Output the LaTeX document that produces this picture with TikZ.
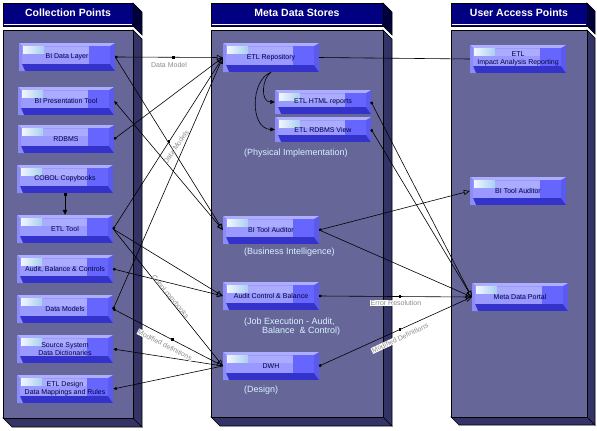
\documentclass[tikz,border=0pt]{standalone}
\usepackage{fontspec}
\setmainfont{Liberation Sans}
\usetikzlibrary{arrows.meta,calc}
\definecolor{panelface}{HTML}{666699}
\definecolor{panelside}{HTML}{333366}
\definecolor{hdrface}{HTML}{000080}
\definecolor{hdrside}{HTML}{00003A}
\definecolor{btndark}{HTML}{3333CC}
\definecolor{btnright}{HTML}{6666FF}
\definecolor{btnface}{HTML}{9999FF}
\definecolor{btntop}{HTML}{AEAEFF}
\definecolor{btnleft}{HTML}{8C8CF8}
\definecolor{btnrbev}{HTML}{5A5AEE}
\definecolor{btnband}{HTML}{ABABFF}
\definecolor{hilite}{HTML}{F2F6FF}
\definecolor{hilite2}{HTML}{A8D0F0}
\definecolor{txtnavy}{HTML}{000040}
\definecolor{lblgray}{HTML}{8C8C8C}
\definecolor{parencol}{HTML}{D6F4FF}

\newcommand{\mybtn}[5]{%
 \begin{scope}[shift={(#2,#3)}]
  \fill[btndark] (0,0) rectangle (96,#4);
  \fill[btnrbev] (96,0) -- (96,#4) -- (91,#4-7) -- (91,3) -- cycle;
  \fill[btntop] (0,0) -- (96,0) -- (91,3) -- (3,3) -- cycle;
  \fill[btnleft] (0,0) -- (3,3) -- (3,#4-7) -- (6,#4) -- (0,#4) -- cycle;
  \fill[btnface] (3,3) rectangle (91,#4-7);
  \fill[btnright] (70,3) rectangle (91,#4-7);
  \shade[left color=hilite, right color=hilite2] (4,3.5) rectangle (25,10.5);
  \fill[btnband] (25,3.5) rectangle (70,10.5);
 \end{scope}
 \node[btntext, minimum height=#4] (#1) at (#2+48,#3+#4/2) {#5};
}

\newcommand{\mypanel}[4]{%
 \filldraw[panelside, draw=black, line width=0.6pt] (#1,#3) -- (#2,#3) -- (#2+#4,#3+#4) -- (#1+#4,#3+#4) -- cycle;
 \filldraw[panelside, draw=black, line width=0.6pt] (#2,30) -- (#2+#4,30+#4) -- (#2+#4,#3+#4) -- (#2,#3) -- cycle;
 \filldraw[panelface, draw=black, line width=0.6pt] (#1,30) rectangle (#2,#3);
 \filldraw[hdrside, draw=black, line width=0.6pt] (#2,3) -- (#2+#4,3+#4) -- (#2+#4,26+#4) -- (#2,26) -- cycle;
 \filldraw[hdrface, draw=black, line width=0.6pt] (#1,3) rectangle (#2,26);
 \draw[white, line width=0.8pt] (#1+0.6,24) -- (#2-0.6,24);
}

\tikzset{
 btntext/.style={minimum width=96pt, inner sep=0pt, align=center, text=txtnavy,
   font=\fontsize{7}{8}\selectfont},
 hdr/.style={inner sep=0pt, text=white, font=\bfseries\fontsize{10.5}{12}\selectfont},
 paren/.style={inner sep=0pt, text=parencol, font=\fontsize{9}{10}\selectfont, anchor=west},
 lbl/.style={inner sep=0.5pt, text=lblgray, font=\fontsize{7}{8}\selectfont},
 lblw/.style={lbl, fill=white},
 conn/.style={draw=black, line width=0.6pt},
 oa/.style={arrows={-Triangle[open,length=6pt,width=5pt]}},
 sqoa/.style={arrows={Square[length=2.2pt,width=2.2pt]-Triangle[open,length=6pt,width=5pt]}},
 saoa/.style={arrows={Triangle[length=3.5pt,width=3pt]-Triangle[open,length=6pt,width=5pt]}},
 sa/.style={arrows={Triangle[length=3.5pt,width=3pt]-}},
 sqfa/.style={arrows={Square[length=2.2pt,width=2.2pt]-Triangle[length=5pt,width=4.5pt]}},
 fa/.style={arrows={-Triangle[length=4.5pt,width=4pt]}},
 mm/.style={fill=black, minimum size=2.6pt, inner sep=0pt, rectangle},
}

\begin{document}
\begin{tikzpicture}[x=1pt,y=-1pt]
\useasboundingbox (0,0) rectangle (597,431);
\fill[white] (0,0) rectangle (597,431);

% panels
\mypanel{3}{133}{418}{9}
\mypanel{211}{383}{417}{9}
\mypanel{451}{587}{417}{8}

\node[hdr] (hC) at (68,13) {Collection Points};
\node[hdr] (hM) at (297,13) {Meta Data Stores};
\node[hdr] (hU) at (519,13) {User Access Points};

% buttons
\mybtn{bidl}{19}{43}{28}{BI Data Layer}
\mybtn{bipt}{18}{87}{28}{BI Presentation Tool}
\mybtn{rdbms}{18}{125}{28}{RDBMS}
\mybtn{cobol}{17}{165}{28}{COBOL Copybooks}
\mybtn{etltool}{17}{215}{28}{ETL Tool}
\mybtn{abc}{17}{255}{28}{Audit, Balance \& Controls}
\mybtn{dmodels}{17}{295}{28}{Data Models}
\mybtn{srcsys}{17}{335}{28}{Source System\\Data Dictionaries}
\mybtn{etldes}{17}{375}{28}{ETL Design\\Data Mappings and Rules}
\mybtn{repo}{223}{43}{29}{ETL Repository}
\mybtn{htmlrep}{275}{90}{24}{ETL HTML reports}
\mybtn{rdbmsv}{275}{117}{25}{ETL RDBMS View}
\mybtn{bitam}{223}{216}{28}{BI Tool Auditor}
\mybtn{acb}{223}{282}{28}{Audit Control \& Balance}
\mybtn{dwh}{223}{352}{28}{DWH}
\mybtn{impact}{470}{45}{28}{ETL\\Impact Analysis Reporting}
\mybtn{bitau}{470}{177}{28}{BI Tool Auditor}
\mybtn{portal}{472}{283}{28}{Meta Data Portal}

% parenthetical notes
\node[paren] (pPI) at (244,153) {(Physical Implementation)};
\node[paren] (pBI) at (244,252) {(Business Intelligence)};
\node[paren] (pJE1) at (244,322) {(Job Execution - Audit,};
\node[paren] (pJE2) at (262,331.5) {Balance\ \ \& Control)};
\node[paren] (pD) at (244,390) {(Design)};

% connectors: collection -> meta
\draw[conn,sqoa] (bidl.east) -- node[mm,pos=0.54] (m1) {} (repo.west);
\draw[conn,sqoa] (rdbms.east) -- (repo.west);
\draw[conn,sqoa] (etltool.east) -- node[mm,pos=0.51] (m2) {} (repo.west);
\draw[conn,sqoa] (dmodels.east) -- (repo.west);
\draw[conn,oa] (bidl.east) -- (bitam.west);
\draw[conn,saoa] (bipt.east) -- (bitam.west);
\draw[conn,sqfa] (cobol.south) -- (etltool.north);
\draw[conn,oa] (etltool.east) -- (acb.west);
\draw[conn,sqoa] (abc.east) -- (acb.west);
\draw[conn,oa] (etltool.east) -- (dwh.west);
\draw[conn,sqoa] (dmodels.east) -- node[mm,pos=0.54] (m3) {} (dwh.west);
\draw[conn,sa] (srcsys.east) -- (dwh.west);
\draw[conn,sa] (etldes.east) -- (dwh.west);

% meta internal
\draw[conn,fa] (repo.south) .. controls (262,78) and (260,102) .. (htmlrep.west);
\draw[conn,fa] (repo.south) .. controls (250,80) and (250,129) .. (rdbmsv.west);

% meta -> user
\draw[conn] (repo.east) -- (impact.west);
\draw[conn,sqoa] (htmlrep.east) -- (portal.west);
\draw[conn,sqoa] (rdbmsv.east) -- (portal.west);
\draw[conn,sqoa] (bitam.east) -- (bitau.west);
\draw[conn,oa] (bitam.east) -- (portal.west);
\draw[conn,sqoa] (acb.east) -- node[mm,pos=0.53] (m4) {} (portal.west);
\draw[conn,sqoa] (dwh.east) -- node[mm,pos=0.53] (m5) {} (portal.west);

% connector labels
\node[lbl] (lDM) at (169,64.5) {Data Model};
\node[lbl,rotate=55] (lDMs) at (176,147) {Data Models};
\node[lbl,rotate=-50] (lCC) at (170,297) {Cobol copybooks};
\node[lblw,rotate=-27] (lMd) at (165,345) {Modified definitions};
\node[lblw] (lER) at (396,303) {Error Resolution};
\node[lblw,rotate=25] (lMD) at (400,338) {Modified Definitions};
\end{tikzpicture}
\end{document}
